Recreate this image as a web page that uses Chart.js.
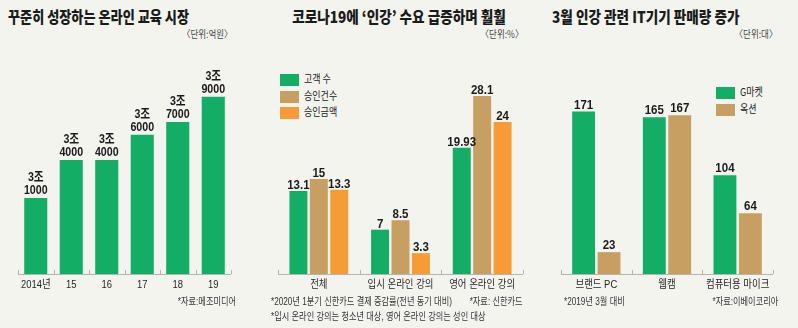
<!DOCTYPE html>
<html>
<head>
<meta charset="utf-8">
<script src="https://cdn.jsdelivr.net/npm/chart.js@4"></script>
<style>
  body { margin: 0; background: #f4f4ef; }
  #wrap { position: relative; width: 798px; height: 328px; overflow: hidden; background: #f4f4ef;
          font-family: "Noto Sans CJK KR", sans-serif; color: #222; }
  .t { position: absolute; white-space: nowrap; line-height: 1; }
  .title { font-size: 16px; font-weight: 900; color: #1b1b1b; }
  .unit { font-size: 10px; color: #444; transform: scaleX(0.85); transform-origin: right top; }
  .note { font-size: 10px; color: #333; font-family: "Liberation Sans", "Noto Sans CJK KR", sans-serif; }
  .nl { transform: scaleX(0.82); transform-origin: left top; }
  .nr { transform: scaleX(0.82); transform-origin: right top; }
  canvas { position: absolute; }
  .leg { position: absolute; font-size: 11px; line-height: 1; }
  .leg div { height: 16.5px; display: flex; align-items: flex-start; }
  .leg i { display: inline-block; width: 19px; height: 12px; margin-right: 5px; }
  .leg span { display: inline-block; transform: scaleX(0.82); transform-origin: left center; margin-top: -1px; }
</style>
</head>
<body>
<div id="wrap">
  <div class="t title nl" style="left:8px;top:8px;">꾸준히 성장하는 온라인 교육 시장</div>
  <div class="t unit" style="right:565px;top:29px;">〈단위:억원〉</div>
  <canvas id="c1" width="225" height="240" style="left:12px;top:60px;"></canvas>
  <div class="t note nr" style="right:562px;top:297px;">*자료:메조미디어</div>

  <div class="t title" style="left:266px;width:266px;text-align:center;top:8px;transform:scaleX(0.85);">코로나19에 ‘인강’ 수요 급증하며 훨훨</div>
  <div class="t unit" style="right:275px;top:29px;">〈단위:%〉</div>
  <div class="leg" id="leg2" style="left:280px;top:74px;"></div>
  <canvas id="c2" width="257" height="240" style="left:272px;top:60px;"></canvas>
  <div class="t note nl" style="left:271px;top:297px;">*2020년 1분기 신한카드 결제 증감률(전년 동기 대비)</div>
  <div class="t note nr" style="right:275px;top:297px;">*자료: 신한카드</div>
  <div class="t note nl" style="left:271px;top:312px;">*입시 온라인 강의는 청소년 대상, 영어 온라인 강의는 성인 대상</div>

  <div class="t title" style="left:552px;top:8px;transform:scaleX(0.85);transform-origin:left top;">3월 인강 관련 IT기기 판매량 증가</div>
  <div class="t unit" style="right:21px;top:29px;">〈단위:대〉</div>
  <div class="leg" id="leg3" style="left:716px;top:87px;"></div>
  <canvas id="c3" width="224" height="240" style="left:555px;top:60px;"></canvas>
  <div class="t note nl" style="left:564px;top:297px;">*2019년 3월 대비</div>
  <div class="t note nr" style="right:20px;top:297px;">*자료:이베이코리아</div>
</div>

<script>
// 온라인 교육 시장 (억원)
const marketYears = ["2014년", "15", "16", "17", "18", "19"];
const marketValues = [31000, 34000, 34000, 36000, 37000, 39000];

// 인강 수요 증감률 (%)
const demandCats = ["전체", "입시 온라인 강의", "영어 온라인 강의"];
const customers = [13.1, 7, 19.93];
const approvals = [15, 8.5, 28.1];
const amounts = [13.3, 3.3, 24];

// IT기기 판매량 증가 (대)
const deviceCats = ["브랜드 PC", "웹캠", "컴퓨터용 마이크"];
const gmarket = [171, 165, 104];
const auction = [23, 167, 64];

const GREEN = "#13ad66", TAN = "#c79f63", ORANGE = "#f69c36";

// axis line, short upward ticks, and squeezed category labels
const baseAxis = {
  id: "baseAxis",
  beforeDatasetsDraw(chart) {
    const x = chart.scales.x, ctx = chart.ctx;
    const n = chart.data.labels.length;
    const step = x.width / n;
    const b = chart.chartArea.bottom;
    ctx.save();
    ctx.strokeStyle = "#b4b4b0";
    ctx.lineWidth = 1;
    ctx.beginPath();
    ctx.moveTo(x.left, b + 0.5);
    ctx.lineTo(x.right, b + 0.5);
    for (let i = 0; i <= n; i++) {
      const px = Math.round(x.left + i * step) + 0.5;
      ctx.moveTo(px, b);
      ctx.lineTo(px, b - 4);
    }
    ctx.stroke();
    ctx.fillStyle = "#262626";
    ctx.font = "11.5px 'Liberation Sans', 'Noto Sans CJK KR', sans-serif";
    ctx.textAlign = "center";
    chart.data.labels.forEach((lab, i) => {
      ctx.save();
      ctx.translate(x.getPixelForValue(i), b + 13.5);
      ctx.scale(0.82, 1);
      ctx.fillText(lab, 0, 0);
      ctx.restore();
    });
    ctx.restore();
  }
};

const barLabels = {
  id: "barLabels",
  afterDatasetsDraw(chart, args, opts) {
    const ctx = chart.ctx;
    chart.data.datasets.forEach((ds, i) => {
      chart.getDatasetMeta(i).data.forEach((bar, j) => {
        const lines = opts.format(ds.data[j]).slice().reverse();
        ctx.save();
        ctx.translate(bar.x, bar.y - opts.gap);
        ctx.scale(opts.sx, 1);
        ctx.font = "bold " + opts.size + "px 'Liberation Sans', 'Noto Sans CJK KR', sans-serif";
        ctx.fillStyle = "#1a1a1a";
        ctx.textAlign = "center";
        lines.forEach((l, k) => ctx.fillText(l, 0, -k * opts.lh));
        ctx.restore();
      });
    });
  }
};

function makeChart(id, labels, datasets, yMax, labelOpts, catPct, barPct) {
  return new Chart(document.getElementById(id), {
    type: "bar",
    data: { labels: labels, datasets: datasets },
    options: {
      responsive: false,
      animation: false,
      events: [],
      layout: { padding: { top: 24, left: 6, right: 6, bottom: 0 } },
      datasets: { bar: { categoryPercentage: catPct, barPercentage: barPct } },
      scales: {
        x: {
          grid: { display: false },
          border: { display: false },
          ticks: { display: false },
          afterFit: s => { s.height = 26; }
        },
        y: { display: false, min: yMax[0], max: yMax[1] }
      },
      plugins: {
        legend: { display: false },
        tooltip: { enabled: false },
        barLabels: labelOpts
      }
    },
    plugins: [baseAxis, barLabels]
  });
}

makeChart("c1", marketYears,
  [{ label: "시장 규모", data: marketValues, backgroundColor: GREEN }],
  [25000, 40000],
  { format: v => [Math.floor(v / 10000) + "조", String(v % 10000)], gap: 4, lh: 13, size: 13, sx: 0.82 },
  1, 0.65);

const demandSets = [
  { label: "고객 수", data: customers, backgroundColor: GREEN },
  { label: "승인건수", data: approvals, backgroundColor: TAN },
  { label: "승인금액", data: amounts, backgroundColor: ORANGE }
];
makeChart("c2", demandCats, demandSets, [0, 30],
  { format: v => [String(v)], gap: 2, lh: 13, size: 12.5, sx: 0.92 },
  0.75, 0.88);

const deviceSets = [
  { label: "G마켓", data: gmarket, backgroundColor: GREEN },
  { label: "옥션", data: auction, backgroundColor: TAN }
];
makeChart("c3", deviceCats, deviceSets, [0, 200],
  { format: v => [String(v)], gap: 3, lh: 13, size: 12.5, sx: 0.92 },
  0.72, 0.9);

function legend(id, sets) {
  document.getElementById(id).innerHTML = sets.map(s =>
    '<div><i style="background:' + s.backgroundColor + '"></i><span>' + s.label + '</span></div>').join("");
}
legend("leg2", demandSets);
legend("leg3", deviceSets);
</script>
</body>
</html>
